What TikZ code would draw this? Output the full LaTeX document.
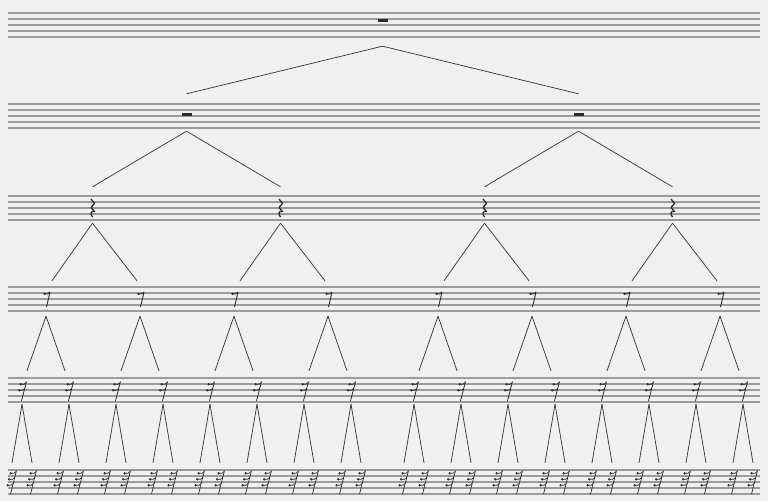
\documentclass[tikz,border=0pt]{standalone}
\usetikzlibrary{calc}

\definecolor{paper}{RGB}{240,240,240}
\definecolor{staffgray}{RGB}{155,155,155}
\definecolor{treegray}{RGB}{60,60,60}
\definecolor{restink}{RGB}{45,45,45}

% one flag of a rest: stem point (#1,#2), dot hangs to the left
\newcommand\flagat[2]{%
  \fill (#1-5.5,#2+1.8) circle (1.3pt);
  \draw (#1-5.5,#2+1.8) .. controls (#1-3,#2+2.6) and (#1-1,#2+1.6) .. (#1,#2);}

\tikzset{
  staffline/.style={staffgray, line width=1.3pt},
  branch/.style={treegray, line width=0.75pt},
  slot/.style={inner sep=0pt, minimum width=10pt, minimum height=24pt},
  wholerest/.pic={\fill[restink] (-5,-6) rectangle (5,-3.2);},
  halfrest/.pic={\fill[restink] (-5,-3.2) rectangle (5,0);},
  quarterrest/.pic={
    \draw[restink, line width=1.3pt, line join=round]
      (-1.5,-9) -- (2,-4.5) -- (-1.5,-0.5) -- (2,3.5)
      .. controls (-2,2.5) and (-2.5,6) .. (0,9);},
  eighthrest/.pic={
    \begin{scope}[restink, line width=0.9pt]
      \flagat{4}{-7}
      \draw (4,-7) -- (0.5,8);
    \end{scope}},
  sixteenthrest/.pic={
    \begin{scope}[restink, line width=0.8pt]
      \flagat{4.2}{-7.5}
      \flagat{2.7}{-1.5}
      \draw (4.5,-8.5) -- (-0.5,11);
    \end{scope}},
  thirtysecondrest/.pic={
    \begin{scope}[restink, line width=0.7pt]
      \flagat{4.2}{-10.5}
      \flagat{2.7}{-4.5}
      \flagat{1.2}{1.5}
      \draw (4.5,-11.5) -- (-1.5,12);
    \end{scope}}
}

\begin{document}
\begin{tikzpicture}[x=1pt, y=-1pt]
  \fill[paper] (0,0) rectangle (768,501);
  \useasboundingbox (0,0) rectangle (768,501);
  % staves
  \foreach \t in {13,104,196,287,378,470}
    \foreach \d in {0,6,...,24}
      \draw[staffline] (8,\t+\d) -- (760,\t+\d);
  % whole
  \node[slot] (w) at (382.5,25) {};
  \pic at (w) {wholerest};
  % halves
  \foreach \n in {0,1} {
    \pgfmathsetmacro\x{186.5+392*\n}
    \node[slot] (h\n) at (\x,116) {};
    \pic at (h\n) {halfrest};
    \draw[branch] ([yshift=-9pt]w.south) -- ([yshift=10pt]h\n.north);
  }
  % quarters
  \foreach \n in {0,...,3} {
    \pgfmathsetmacro\x{92.5+188*\n+16*(\n>1)}
    \pgfmathtruncatemacro\p{int(\n/2)}
    \node[slot] (q\n) at (\x,208) {};
    \pic at (q\n) {quarterrest};
    \draw[branch] ([yshift=-3pt]h\p.south) -- ([yshift=9pt]q\n.north);
  }
  % eighths
  \foreach \n in {0,...,7} {
    \pgfmathsetmacro\x{46+94*\n+16*(\n>3)}
    \pgfmathtruncatemacro\p{int(\n/2)}
    \pgfmathsetmacro\dx{6-9*mod(\n,2)}
    \node[slot] (e\n) at (\x,299) {};
    \pic at (e\n) {eighthrest};
    \draw[branch] ([yshift=-3pt]q\p.south) -- ([xshift=\dx pt, yshift=6pt]e\n.north);
  }
  % sixteenths
  \foreach \n in {0,...,15} {
    \pgfmathsetmacro\x{22+47*\n+16*(\n>7)}
    \pgfmathtruncatemacro\p{int(\n/2)}
    \pgfmathsetmacro\dx{5-9*mod(\n,2)}
    \node[slot] (s\n) at (\x,390) {};
    \pic at (s\n) {sixteenthrest};
    \draw[branch] ([yshift=-5pt]e\p.south) -- ([xshift=\dx pt, yshift=7pt]s\n.north);
  }
  % thirty-seconds
  \foreach \n in {0,...,31} {
    \pgfmathtruncatemacro\p{int(\n/2)}
    \pgfmathsetmacro\x{22+47*\p+16*(\p>7)+20*mod(\n,2)-10}
    \node[slot] (t\n) at (\x,482) {};
    \pic at (t\n) {thirtysecondrest};
    \draw[branch] ([yshift=-2pt]s\p.south) -- ([yshift=7pt]t\n.north);
  }
\end{tikzpicture}
\end{document}
